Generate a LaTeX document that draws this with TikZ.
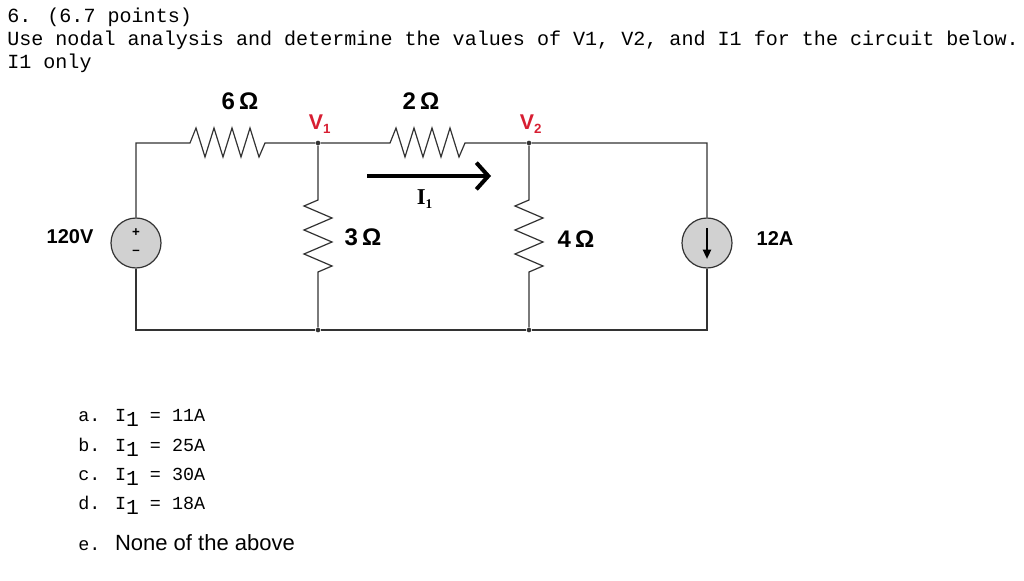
\documentclass[tikz,border=0pt]{standalone}
\usepackage{fontspec}
\setmainfont{Liberation Sans}
\newfontfamily\mono{Liberation Mono}
\usetikzlibrary{arrows.meta}
\begin{document}
\begin{tikzpicture}[x=0.75pt,y=-0.75pt,
  wire/.style={line width=0.9pt,black!80},
  lab/.style={inner sep=0},
  bf/.style={font=\fontsize{#1}{#1}\selectfont\bfseries},
  mt/.style={font=\mono\fontsize{15.05}{17}\selectfont,anchor=base west,inner sep=0},
  ans/.style={font=\mono\fontsize{13.8}{14}\selectfont,anchor=base west,inner sep=0},
  dot/.style={circle,fill=black!80,inner sep=0,minimum size=3.5pt}]
\useasboundingbox (0,0) rectangle (1024,581);
\node[mt] (t1) at (7,23) {6. (6.7 points)};
\node[mt] (t2) at (7,46) {Use nodal analysis and determine the values of V1, V2, and I1 for the circuit below.};
\node[mt] (t3) at (7,69) {I1 only};
% coordinates
\coordinate (tl) at (136,143); \coordinate (bl) at (136,330);
\node[dot] (v1) at (318,143) {}; \node[dot] (g1) at (318,330) {};
\node[dot] (v2) at (529,143) {}; \node[dot] (g2) at (529,330) {};
\coordinate (tr) at (707,143); \coordinate (br) at (707,330);
\node[circle,draw=black!80,line width=0.9pt,fill=black!18,minimum size=50pt*0.75,inner sep=0] (vs) at (136,243) {};
\node[circle,draw=black!80,line width=0.9pt,fill=black!18,minimum size=50pt*0.75,inner sep=0] (cs) at (707,243) {};
\node[bf=10] (vp) at (136,233) {+};
\node[bf=10] (vm) at (136,252) {–};
\draw[-{Triangle[length=7pt,width=6pt]},line width=1.6pt] (707,228) -- (707,259);
% wires with resistors
\draw[wire] (vs.north) -- (tl) -- (190,143) -- (196,128) -- (205,157) -- (214,128) -- (223,157) -- (232,128) -- (241,157) -- (250,128) -- (259,157) -- (265,143) -- (v1);
\draw[wire] (v1) -- (390,143) -- (396,128) -- (405,157) -- (414,128) -- (423,157) -- (432,128) -- (441,157) -- (450,128) -- (459,157) -- (465,143) -- (v2) -- (tr) -- (cs.north);
\draw[wire] (v1) -- (318,200) -- (304,206) -- (332,218) -- (304,230) -- (332,242) -- (304,254) -- (332,266) -- (318,272) -- (g1);
\draw[wire] (v2) -- (529,200) -- (515,206) -- (543,218) -- (515,230) -- (543,242) -- (515,254) -- (543,266) -- (529,272) -- (g2);
\draw[wire] (vs.south) -- (bl) -- (g1) -- (g2) -- (br) -- (cs.south);
% current arrow
\coordinate (a1) at (367,176); \coordinate (a2) at (491,176);
\draw[line width=3pt,-{Straight Barb[length=9pt,width=20pt,line width=3pt]}] (a1) -- (a2);
% labels
\node[lab,bf=18] (l6) at (240,101) {6\,Ω};
\node[lab,bf=18] (l2) at (421,101) {2\,Ω};
\node[lab,bf=18] (l3) at (363,237) {3\,Ω};
\node[lab,bf=18] (l4) at (576,239) {4\,Ω};
\node[lab,bf=16,text={rgb,255:red,215;green,30;blue,50}] (lv1) at (320,124) {V\textsubscript{\fontsize{10}{10}\selectfont 1}};
\node[lab,bf=16,text={rgb,255:red,215;green,30;blue,50}] (lv2) at (531,124) {V\textsubscript{\fontsize{10}{10}\selectfont 2}};
\node[lab,font=\fontsize{17}{17}\selectfont\bfseries\fontspec{Liberation Serif}] (li) at (425,199) {I\textsubscript{\fontsize{10}{10}\selectfont 1}};
\node[lab,bf=15] (l120) at (70,237) {120V};
\node[lab,bf=15] (l12) at (775,239) {12A};
% answers
\node[ans] (a) at (78,421) {a. I\raisebox{-4pt}{\fontsize{16}{16}\selectfont 1} = 11A};
\node[ans] (b) at (78,451) {b. I\raisebox{-4pt}{\fontsize{16}{16}\selectfont 1} = 25A};
\node[ans] (c) at (78,480) {c. I\raisebox{-4pt}{\fontsize{16}{16}\selectfont 1} = 30A};
\node[ans] (d) at (78,509) {d. I\raisebox{-4pt}{\fontsize{16}{16}\selectfont 1} = 18A};
\node[ans] (e) at (78,550) {e. {\rmfamily\fontsize{16.5}{17}\selectfont None of the above}};
\end{tikzpicture}
\end{document}
